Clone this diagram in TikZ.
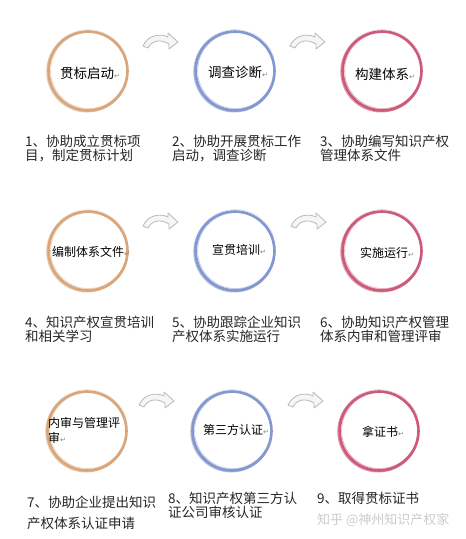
\documentclass[tikz,border=0pt]{standalone}
\usepackage{fontspec}
\setmainfont{Noto Sans CJK SC}
\newfontfamily\dejavu{DejaVu Sans}
\definecolor{ringO}{HTML}{D9A57A}
\definecolor{ringB}{HTML}{8398CF}
\definecolor{ringR}{HTML}{CC5B79}
\newcommand{\pmark}{{\dejavu\fontsize{7}{7}\selectfont\color{gray}↵}}
\newcommand{\brushring}[2]{%
  \draw[#2, line width=1.2pt, opacity=0.6] ([xshift=-0.8pt,yshift=-0.6pt]#1.center) circle[radius=40.3pt];
  \draw[#2, line width=0.8pt, opacity=0.45] ([xshift=0.6pt,yshift=0.4pt]#1.center) circle[radius=38pt];
  \draw[#2, line width=1.6pt, opacity=0.8] (#1.center) ++(150:39pt) arc[start angle=150, end angle=330, radius=39pt];
  \draw[#2!50, line width=0.6pt, opacity=0.7] (#1.center) ++(20:41.3pt) arc[start angle=20, end angle=140, radius=41.3pt];
}
\tikzset{flowarrow/.pic={
  \path[flow] (0,12) .. controls (5,1) and (17,-1) .. (25,3) -- (25,-1) -- (35,8) -- (26,15) -- (26,10)
     .. controls (18,5) and (9,6) .. (5,14) -- cycle;
}}
\begin{document}
\begin{tikzpicture}[x=1pt,y=-1pt,
  ring/.style={circle, draw=#1, line width=2.6pt, minimum size=79pt, inner sep=0pt},
  inlabel/.style={font=\fontsize{12}{15}\selectfont, inner sep=0pt, anchor=west, align=left},
  biglabel/.style={font=\fontsize{13.5}{15}\selectfont, inner sep=0pt, anchor=west},
  caption/.style={font=\fontsize{13.5}{14}\selectfont, anchor=west, align=left, inner sep=0pt, text=black!85},
  flow/.style={fill=gray!7, draw=gray!55, line width=0.8pt, line join=round}]
\useasboundingbox (0,0) rectangle (466,539);
\fill[white] (0,0) rectangle (466,539);

% rings
\node[ring=ringO] (c1) at (88,71) {};
\node[ring=ringB] (c2) at (235,71) {};
\node[ring=ringR] (c3) at (382,71) {};
\node[ring=ringO] (c4) at (88,251) {};
\node[ring=ringB] (c5) at (235,251) {};
\node[ring=ringR] (c6) at (382,251) {};
\node[ring=ringO] (c7) at (87,431) {};
\node[ring=ringB] (c8) at (232,431) {};
\node[ring=ringR] (c9) at (379,431) {};
\brushring{c1}{ringO}\brushring{c2}{ringB}\brushring{c3}{ringR}
\brushring{c4}{ringO}\brushring{c5}{ringB}\brushring{c6}{ringR}
\brushring{c7}{ringO}\brushring{c8}{ringB}\brushring{c9}{ringR}

% labels inside rings
\node[biglabel] (l1) at (60,73) {贯标启动\pmark};
\node[biglabel] (l2) at (208,72) {调查诊断\pmark};
\node[biglabel] (l3) at (355,74) {构建体系\pmark};
\node[inlabel] (l4) at (52,252) {编制体系文件\pmark};
\node[inlabel] (l5) at (212,250) {宣贯培训\pmark};
\node[inlabel] (l6) at (360,253) {实施运行\pmark};
\node[inlabel] (l7) at (48,430.5) {内审与管理评\\审\pmark};
\node[inlabel] (l8) at (203,430) {第三方认证\pmark};
\node[inlabel] (l9) at (362,432) {拿证书\pmark};

% arrows
\pic at (143,34) {flowarrow};
\pic at (290,34) {flowarrow};
\pic at (143,214) {flowarrow};
\pic at (291,214) {flowarrow};
\pic at (139,393) {flowarrow};
\pic at (288,393) {flowarrow};

% captions
\node[caption] (t1) at (25,148.5) {1、协助成立贯标项\\目，制定贯标计划};
\node[caption] (t2) at (172,148.5) {2、协助开展贯标工作\\启动，调查诊断};
\node[caption] (t3) at (320,148.5) {3、协助编写知识产权\\管理体系文件};
\node[caption] (t4) at (25,329) {4、知识产权宣贯培训\\和相关学习};
\node[caption] (t5) at (172,329) {5、协助跟踪企业知识\\产权体系实施运行};
\node[caption] (t6) at (320,329) {6、协助知识产权管理\\体系内审和管理评审};
\node[caption] (t7) at (27,512.5) {7、协助企业提出知识\\[7pt]产权体系认证申请};
\node[caption] (t8) at (168,505.5) {8、知识产权第三方认\\证公司审核认证};
\node[caption] (t9) at (317,498) {9、取得贯标证书};
\node[font=\fontsize{13}{13}\selectfont, text=gray!40, anchor=west, inner sep=0pt] (wm) at (317,520) {知乎 @神州知识产权家};
\end{tikzpicture}
\end{document}
